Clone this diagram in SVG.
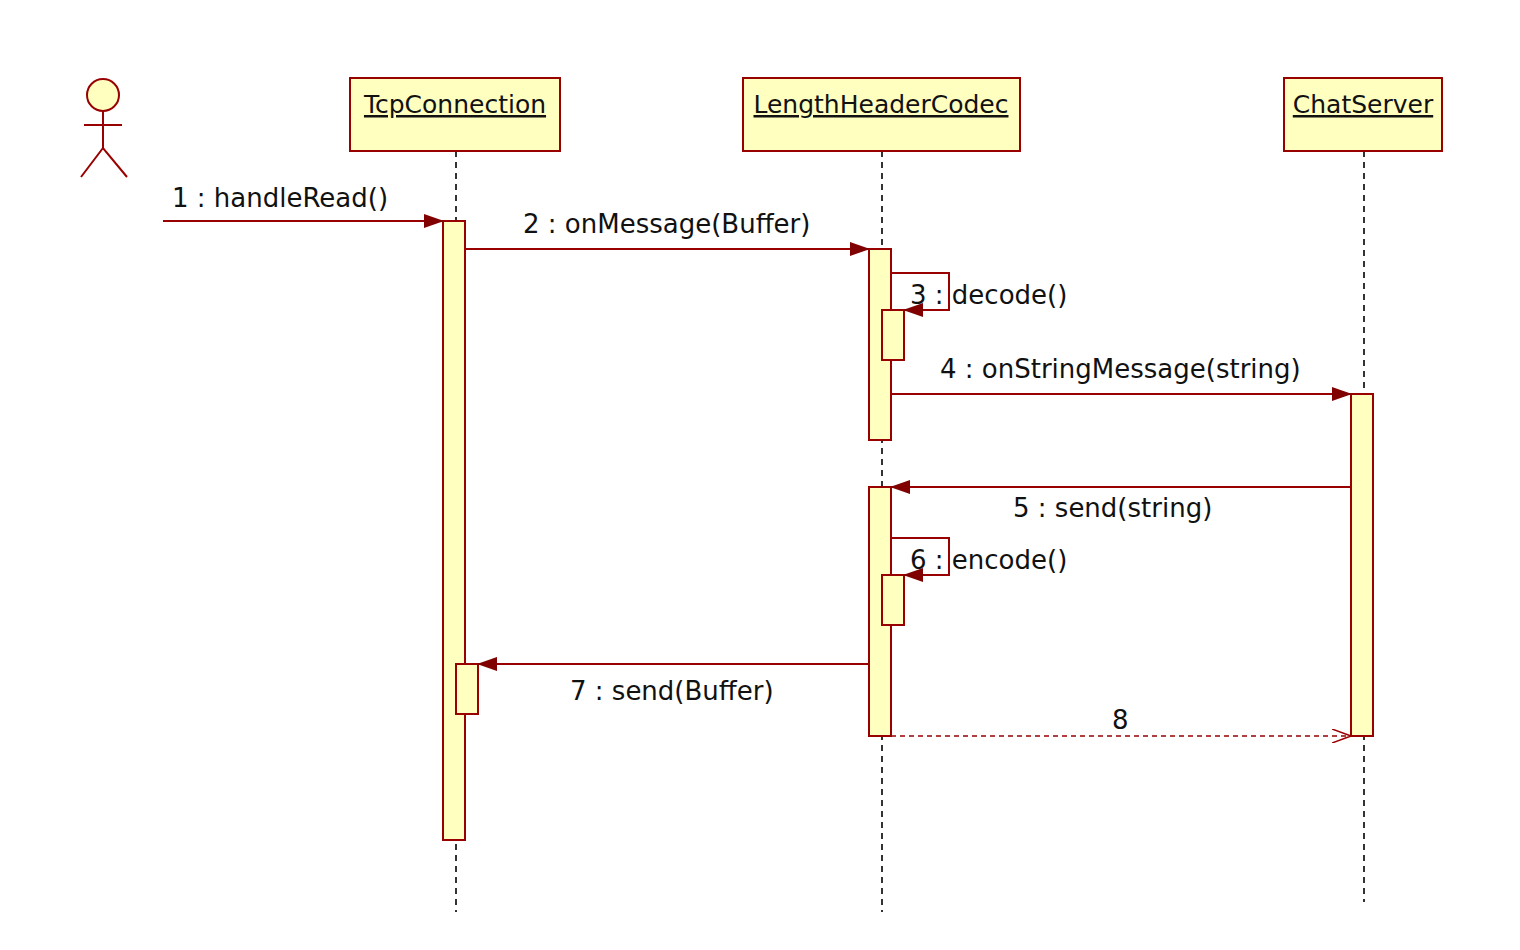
<svg xmlns="http://www.w3.org/2000/svg" width="1520" height="950" viewBox="0 0 1520 950">
<style>
.box{fill:#FFFFC0;stroke:#990000;stroke-width:2}
.life{stroke:#333;stroke-width:2;stroke-dasharray:6,5}
.msg{stroke:#990000;stroke-width:2;fill:none}
.dash{stroke:#990000;stroke-width:1.5;fill:none;stroke-dasharray:5,4}
text{font-family:Tahoma,"DejaVu Sans",sans-serif;font-size:26px;fill:#111}
.nm{text-decoration:underline;text-anchor:middle;font-size:25px}
</style>
<defs>
<marker id="fa" markerWidth="20" markerHeight="14" refX="19" refY="7" orient="auto" markerUnits="userSpaceOnUse"><path d="M0,0 L20,7 L0,14 Z" fill="#800000"/></marker>
<marker id="oa" markerWidth="20" markerHeight="14" refX="19" refY="7" orient="auto" markerUnits="userSpaceOnUse"><path d="M0,0 L19,7 L0,14" fill="none" stroke="#990000" stroke-width="1.5"/></marker>
</defs>
<g id="actor" stroke="#990000" stroke-width="2" fill="none">
<circle cx="103" cy="95" r="16" fill="#FFFFC0"/>
<line x1="103" y1="111" x2="103" y2="148"/>
<line x1="84" y1="125" x2="122" y2="125"/>
<polyline points="81,177 103,148 127,177"/>
</g>
<g id="tcp">
<line class="life" x1="456" y1="151" x2="456" y2="912"/>
<rect class="box" x="350" y="78" width="210" height="73"/>
<text class="nm" x="455" y="113">TcpConnection</text>
<rect class="box" x="443" y="221" width="22" height="619"/>
<rect class="box" x="456" y="664" width="22" height="50"/>
</g>
<g id="codec">
<line class="life" x1="882" y1="151" x2="882" y2="912"/>
<rect class="box" x="743" y="78" width="277" height="73"/>
<text class="nm" x="881" y="113">LengthHeaderCodec</text>
<rect class="box" x="869" y="249" width="22" height="191"/>
<rect class="box" x="882" y="310" width="22" height="50"/>
<rect class="box" x="869" y="487" width="22" height="249"/>
<rect class="box" x="882" y="575" width="22" height="50"/>
</g>
<g id="chat">
<line class="life" x1="1364" y1="151" x2="1364" y2="902"/>
<rect class="box" x="1284" y="78" width="158" height="73"/>
<text class="nm" x="1363" y="113">ChatServer</text>
<rect class="box" x="1351" y="394" width="22" height="342"/>
</g>
<g id="connectors">
<line class="msg" x1="163" y1="221" x2="443" y2="221" marker-end="url(#fa)"/>
<line class="msg" x1="465" y1="249" x2="869" y2="249" marker-end="url(#fa)"/>
<polyline class="msg" points="891,273 949,273 949,310 904,310" marker-end="url(#fa)"/>
<line class="msg" x1="891" y1="394" x2="1351" y2="394" marker-end="url(#fa)"/>
<line class="msg" x1="1351" y1="487" x2="891" y2="487" marker-end="url(#fa)"/>
<polyline class="msg" points="891,538 949,538 949,575 904,575" marker-end="url(#fa)"/>
<line class="msg" x1="869" y1="664" x2="478" y2="664" marker-end="url(#fa)"/>
<line class="dash" x1="891" y1="736" x2="1351" y2="736" marker-end="url(#oa)"/>
<text x="172" y="207">1 : handleRead()</text>
<text x="523" y="233">2 : onMessage(Buffer)</text>
<text x="910" y="304">3 : decode()</text>
<text x="940" y="378">4 : onStringMessage(string)</text>
<text x="1013" y="517">5 : send(string)</text>
<text x="910" y="569">6 : encode()</text>
<text x="570" y="700">7 : send(Buffer)</text>
<text x="1112" y="729">8</text>
</g>
</svg>
